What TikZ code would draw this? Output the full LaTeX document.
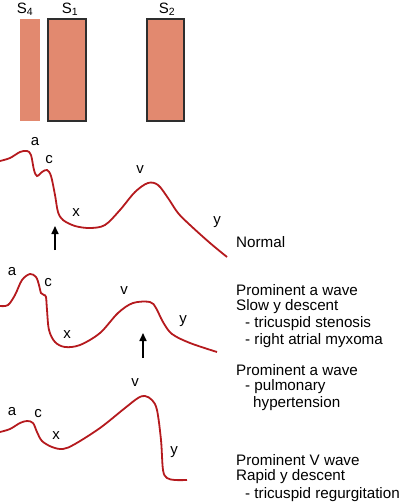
\documentclass[tikz,border=0pt]{standalone}
\usepackage{fontspec}
\setmainfont{Liberation Sans}
\usetikzlibrary{arrows.meta}
\definecolor{salmon}{HTML}{E2896F}
\definecolor{wave}{HTML}{B51A1E}
\definecolor{edge}{HTML}{2E2E2E}
\begin{document}
\begin{tikzpicture}[x=1pt,y=-1pt,
  lbl/.style={font=\fontsize{15}{17}\selectfont, inner sep=0pt},
  wavecurve/.style={draw=wave, line width=1.8pt, smooth, tension=0.55},
  uparrow/.style={draw=black, line width=1.6pt, -{Triangle[length=8pt,width=7pt]}},
  txt/.style={font=\fontsize{15.2}{17}\selectfont, anchor=west, inner sep=0pt, align=left}]
\useasboundingbox (0,0) rectangle (400,503);
% sound bars
\fill[salmon] (20,19) rectangle (40,121);
\draw[fill=salmon, draw=edge, line width=1.2pt] (48,19) rectangle (86,121);
\draw[fill=salmon, draw=edge, line width=1.2pt] (147,19) rectangle (184,121);
\node[lbl] (s4) at (25,9) {S\textsubscript{4}};
\node[lbl] (s1) at (70,9) {S\textsubscript{1}};
\node[lbl] (s2) at (167,9) {S\textsubscript{2}};
% curve 1
\draw[wavecurve] plot coordinates {(0,161) (10,158) (20,152) (27,151) (31,155) (34,170) (37,176) (42,172) (47,170) (51,176) (55,195) (58,212) (63,220) (75,226) (90,228) (105,225) (120,210) (135,192) (148,183) (158,185) (168,198) (178,213) (190,225) (210,243) (227,257)};
\node[lbl] (a1) at (35,142) {a};
\node[lbl] (c1) at (49,160) {c};
\node[lbl] (x1) at (76,213) {x};
\node[lbl] (v1) at (140,170) {v};
\node[lbl] (y1) at (217,222) {y};
\coordinate (ar1b) at (55,250);
\coordinate (ar1t) at (55,226);
\draw[uparrow] (ar1b) -- (ar1t);
\node[txt] (t1) at (236,242) {Normal};
% curve 2
\draw[wavecurve] plot coordinates {(0,306) (8,305) (15,295) (22,280) (30,274) (36,277) (39,285) (41,293) (44,295) (46,297) (47,310) (49,330) (55,342) (65,347) (80,345) (100,333) (118,313) (133,303) (150,302) (156,308) (163,322) (172,334) (190,343) (217,352)};
\node[lbl] (a2) at (12,272) {a};
\node[lbl] (c2) at (48,283) {c};
\node[lbl] (x2) at (67,335) {x};
\node[lbl] (v2) at (124,291) {v};
\node[lbl] (y2) at (183,321) {y};
\coordinate (ar2b) at (143,358);
\coordinate (ar2t) at (143,333);
\draw[uparrow] (ar2b) -- (ar2t);
\node[txt] (t2a) at (236,290) {Prominent a wave};
\node[txt] (t2b) at (236,307) {Slow y descent};
\node[txt] (t2c) at (245,324) {- tricuspid stenosis};
\node[txt] (t2d) at (245,341) {- right atrial myxoma};
\node[txt] (t3a) at (236,370) {Prominent a wave};
\node[txt] (t3b) at (245,387) {- pulmonary};
\node[txt] (t3c) at (253,404) {hypertension};
% curve 3
\draw[wavecurve] plot coordinates {(0,432) (10,429) (20,423) (27,421) (33,423) (37,432) (42,441) (52,447) (63,449) (75,444) (100,428) (125,408) (138,398) (145,396) (152,400) (157,410) (161,440) (163,470) (167,478) (175,480) (187,480)};
\node[lbl] (a3) at (12,412) {a};
\node[lbl] (c3) at (38,414) {c};
\node[lbl] (x3) at (56,436) {x};
\node[lbl] (v3) at (135,383) {v};
\node[lbl] (y3) at (174,452) {y};
\node[txt] (t4a) at (236,460) {Prominent V wave};
\node[txt] (t4b) at (236,477) {Rapid y descent};
\node[txt] (t4c) at (245,495) {- tricuspid regurgitation};
\end{tikzpicture}
\end{document}
